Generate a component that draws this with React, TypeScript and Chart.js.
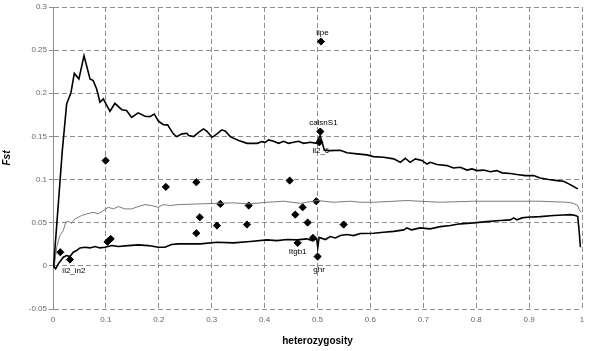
import React, { useEffect, useRef } from 'react';
import { Chart, registerables } from 'chart.js';

Chart.register(...registerables);

// Upper simulated quantile line
const upperX = [0.001, 0.0176, 0.0258, 0.034, 0.0403, 0.049, 0.0586, 0.07, 0.076, 0.0825, 0.0888, 0.095, 0.1077, 0.117, 0.13, 0.139, 0.1486, 0.161, 0.174, 0.183, 0.1915, 0.199, 0.2085, 0.2166, 0.2274, 0.2336, 0.244, 0.253, 0.2565, 0.266, 0.275, 0.2847, 0.291, 0.3006, 0.31, 0.319, 0.326, 0.335, 0.351, 0.367, 0.386, 0.395, 0.401, 0.4076, 0.417, 0.4265, 0.436, 0.445, 0.455, 0.464, 0.4737, 0.4864, 0.4975, 0.505, 0.513, 0.524, 0.543, 0.5558, 0.5747, 0.5936, 0.606, 0.625, 0.644, 0.6565, 0.666, 0.675, 0.685, 0.6975, 0.707, 0.713, 0.726, 0.745, 0.757, 0.77, 0.7826, 0.792, 0.8016, 0.814, 0.8267, 0.839, 0.849, 0.8645, 0.877, 0.893, 0.9085, 0.921, 0.937, 0.953, 0.965, 0.975, 0.984, 0.992];
const upperY = [-0.002, 0.1336, 0.1877, 0.201, 0.223, 0.2167, 0.2437, 0.2167, 0.2147, 0.205, 0.1896, 0.1935, 0.179, 0.1884, 0.181, 0.18, 0.172, 0.1773, 0.1734, 0.173, 0.176, 0.168, 0.1637, 0.1634, 0.153, 0.1498, 0.153, 0.1537, 0.151, 0.1498, 0.1548, 0.1587, 0.156, 0.149, 0.153, 0.1576, 0.156, 0.1498, 0.1452, 0.142, 0.142, 0.144, 0.1432, 0.146, 0.1444, 0.142, 0.1444, 0.142, 0.1432, 0.1444, 0.142, 0.1432, 0.142, 0.151, 0.134, 0.1336, 0.134, 0.131, 0.1298, 0.1286, 0.1266, 0.1258, 0.124, 0.12, 0.1247, 0.12, 0.124, 0.122, 0.118, 0.12, 0.1174, 0.1162, 0.1135, 0.1143, 0.111, 0.1124, 0.1104, 0.111, 0.109, 0.1104, 0.1078, 0.107, 0.1058, 0.1046, 0.1046, 0.1019, 0.1, 0.0988, 0.098, 0.095, 0.0919, 0.0892];

// Median line
const midX = [0.0025, 0.007, 0.013, 0.0195, 0.024, 0.029, 0.0353, 0.0416, 0.048, 0.054, 0.0636, 0.076, 0.0856, 0.095, 0.1045, 0.114, 0.1234, 0.136, 0.1486, 0.161, 0.174, 0.186, 0.199, 0.2085, 0.221, 0.237, 0.278, 0.31, 0.341, 0.373, 0.4045, 0.436, 0.4677, 0.4995, 0.5305, 0.562, 0.581, 0.606, 0.669, 0.732, 0.795, 0.858, 0.92, 0.9716, 0.984, 0.992, 0.9955, 0.999];
const midY = [0.0, 0.0216, 0.035, 0.041, 0.0505, 0.0517, 0.0494, 0.0545, 0.0563, 0.0583, 0.0602, 0.0621, 0.0602, 0.064, 0.0679, 0.066, 0.0687, 0.066, 0.066, 0.0687, 0.071, 0.0699, 0.0679, 0.071, 0.0699, 0.071, 0.0718, 0.0725, 0.073, 0.0718, 0.0737, 0.0749, 0.0725, 0.0757, 0.0737, 0.0749, 0.0737, 0.0737, 0.0757, 0.0737, 0.0749, 0.0749, 0.0749, 0.0737, 0.0725, 0.0699, 0.064, 0.062];

// Lower simulated quantile line
const lowerX = [0.0006, 0.005, 0.01, 0.0195, 0.0257, 0.032, 0.0384, 0.0446, 0.051, 0.0605, 0.07, 0.0794, 0.0888, 0.098, 0.111, 0.1234, 0.142, 0.161, 0.18, 0.199, 0.2117, 0.224, 0.237, 0.2785, 0.31, 0.341, 0.373, 0.4045, 0.4234, 0.442, 0.461, 0.48, 0.4896, 0.4985, 0.5005, 0.503, 0.515, 0.524, 0.534, 0.543, 0.5558, 0.568, 0.581, 0.606, 0.625, 0.644, 0.663, 0.669, 0.678, 0.694, 0.713, 0.732, 0.751, 0.77, 0.795, 0.82, 0.8456, 0.8645, 0.871, 0.877, 0.8866, 0.896, 0.921, 0.946, 0.965, 0.978, 0.9875, 0.992, 0.9945, 0.997];
const lowerY = [0.0, -0.0035, 0.0023, 0.01, 0.012, 0.0108, 0.0158, 0.0177, 0.0208, 0.0216, 0.0208, 0.0224, 0.0208, 0.0216, 0.0235, 0.0224, 0.0235, 0.0243, 0.0235, 0.0216, 0.0216, 0.0247, 0.0255, 0.0255, 0.0274, 0.0266, 0.0282, 0.0301, 0.0293, 0.0305, 0.0301, 0.0313, 0.0293, 0.0313, 0.021, 0.033, 0.0305, 0.034, 0.0324, 0.0351, 0.0363, 0.0351, 0.0375, 0.0378, 0.039, 0.04, 0.0417, 0.044, 0.0417, 0.044, 0.0429, 0.0455, 0.0467, 0.0487, 0.0498, 0.0513, 0.0525, 0.0533, 0.0556, 0.0533, 0.0556, 0.0563, 0.0571, 0.0583, 0.059, 0.0594, 0.0583, 0.0571, 0.041, 0.0216];

// Observed loci
const pointX = [0.0138, 0.032, 0.0995, 0.103, 0.109, 0.2133, 0.271, 0.2775, 0.271, 0.31, 0.3163, 0.3667, 0.37, 0.4474, 0.458, 0.4625, 0.472, 0.4813, 0.4915, 0.4977, 0.5002, 0.5035, 0.5054, 0.5066, 0.5494];
const pointY = [0.0158, 0.0073, 0.122, 0.0278, 0.0313, 0.0915, 0.0969, 0.0563, 0.0378, 0.0467, 0.0718, 0.0479, 0.0699, 0.0988, 0.0594, 0.0266, 0.0679, 0.0502, 0.0324, 0.0749, 0.0108, 0.1432, 0.1556, 0.26, 0.0479];
const pointLabels = ['', 'il2_in2', '', '', '', '', '', '', '', '', '', '', '', '', '', 'Itgb1', '', '', '', '', 'ghr', 'il2_6', 'calsnS1', 'lipe', ''];

const xTickValues = [0, 0.1, 0.2, 0.3, 0.4, 0.5, 0.6, 0.7, 0.8, 0.9, 1];
const yTickValues = [-0.05, 0, 0.05, 0.1, 0.15, 0.2, 0.25, 0.3];

const FONT = "'Liberation Sans', Arial, sans-serif";

export default function App() {
  const ref = useRef<HTMLCanvasElement>(null);

  useEffect(() => {
    document.body.style.margin = '0';
    const canvas = ref.current;
    if (!canvas) return;
    const toXY = (xs: number[], ys: number[]) => xs.map((x, i) => ({ x, y: ys[i] }));

    const labelOffsets: Record<string, [number, number]> = {
      lipe: [1.5, -9],
      calsnS1: [3, -9],
      il2_6: [1.5, 8.5],
      il2_in2: [4, 11],
      Itgb1: [0, 8.5],
      ghr: [1.5, 13.5],
    };

    const labelPlugin = {
      id: 'pointNames',
      afterDatasetsDraw(chart: any) {
        const meta = chart.getDatasetMeta(3);
        const c = chart.ctx;
        c.save();
        c.font = `8px ${FONT}`;
        c.fillStyle = '#000';
        c.textAlign = 'center';
        c.textBaseline = 'middle';
        meta.data.forEach((el: any, i: number) => {
          const name = pointLabels[i];
          if (!name) return;
          const off = labelOffsets[name] || [0, 9];
          c.fillText(name, el.x + off[0], el.y + off[1]);
        });
        c.restore();
      },
    };

    const gridColor = '#8e8e8e';

    const chart = new Chart(canvas, {
      type: 'scatter',
      data: {
        datasets: [
          { data: toXY(upperX, upperY), showLine: true, borderColor: '#000', borderWidth: 1.6, pointRadius: 0, fill: false },
          { data: toXY(midX, midY), showLine: true, borderColor: '#7a7a7a', borderWidth: 1, pointRadius: 0, fill: false },
          { data: toXY(lowerX, lowerY), showLine: true, borderColor: '#000', borderWidth: 1.6, pointRadius: 0, fill: false },
          {
            data: toXY(pointX, pointY),
            showLine: false,
            pointStyle: 'rectRot',
            pointRadius: 3.6,
            backgroundColor: '#000',
            borderColor: '#000',
            borderWidth: 1,
          },
        ],
      },
      options: {
        responsive: false,
        animation: false,
        layout: { padding: { top: 7, right: 18, left: 0, bottom: 0 } },
        plugins: { legend: { display: false }, tooltip: { enabled: false } },
        scales: {
          x: {
            type: 'linear',
            min: 0,
            max: 1,
            afterBuildTicks: (s: any) => { s.ticks = xTickValues.map((v) => ({ value: v })); },
            afterFit: (s: any) => { s.height = 42; },
            grid: { color: gridColor, lineWidth: 1, drawTicks: false },
            border: { display: false, dash: [5, 3] },
            ticks: {
              padding: 6,
              color: '#666',
              font: { size: 8, family: FONT },
              maxRotation: 0,
              autoSkip: false,
              callback: (v: any) => String(Number(Number(v).toFixed(2))),
            },
            title: {
              display: true,
              text: 'heterozygosity',
              color: '#000',
              font: { size: 10, weight: 'bold', family: FONT },
              padding: { top: 0, bottom: 4 },
            },
          },
          y: {
            type: 'linear',
            min: -0.05,
            max: 0.3,
            afterBuildTicks: (s: any) => { s.ticks = yTickValues.map((v) => ({ value: v })); },
            afterFit: (s: any) => { s.width = 53; },
            grid: { color: gridColor, lineWidth: 1, drawTicks: true, tickLength: 4, tickColor: gridColor, tickBorderDash: [] },
            border: { display: true, color: gridColor, width: 1, dash: [5, 3] },
            ticks: {
              padding: 2,
              color: '#666',
              font: { size: 8, family: FONT },
              autoSkip: false,
              callback: (v: any) => String(Number(Number(v).toFixed(2))),
            },
            title: {
              display: true,
              text: 'Fst',
              color: '#000',
              font: { size: 10, weight: 'bold', style: 'italic', family: FONT },
              padding: { top: 1, bottom: 0 },
            },
          },
        },
      },
      plugins: [labelPlugin],
    } as any);

    return () => chart.destroy();
  }, []);

  return (
    <div style={{ width: 600, height: 351, background: '#fff' }}>
      <canvas ref={ref} width={600} height={351} style={{ display: 'block' }} />
    </div>
  );
}
